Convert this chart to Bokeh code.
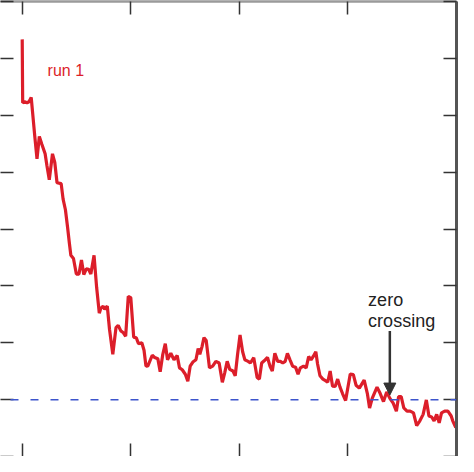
from bokeh.plotting import figure
from bokeh.models import (Range1d, FixedTicker, LinearAxis, Span, Label, Arrow, NormalHead,
                          CustomLabelingPolicy)
from bokeh.embed import file_html
from bokeh.resources import INLINE

# ---- data ----
step = [0, 0.22, 1.11, 2.23, 3.12, 4.14, 5.79, 6.81, 7.88, 9.04, 10.55, 11.35, 12.47, 13.94,
        15.00, 16.03, 17.94, 18.83, 19.90, 20.93, 21.68, 22.40, 23.60, 24.93, 26.14, 27.29,
        28.36, 29.52, 30.59, 31.61, 33.08, 34.28, 35.49, 36.20, 37.27, 37.98, 39.18, 40.20,
        41.72, 43.19, 44.21, 45.41, 46.44, 47.64, 48.84, 50.00, 51.34, 52.54, 53.56, 55.08,
        56.10, 56.99, 57.88, 59.88, 61.00, 62.47, 63.54, 64.69, 65.89, 66.92, 68.43, 69.90,
        71.37, 72.44, 73.69, 75.11, 76.27, 77.34, 78.58, 80.01, 81.03, 81.79, 82.81, 83.70,
        84.73, 86.24, 87.71, 89.18, 90.69, 92.16, 93.28, 94.39, 95.59, 97.06, 98.09, 99.15,
        100.31, 101.51, 102.54, 104.05, 105.08, 106.63, 108.19, 109.22, 110.28, 111.44,
        112.96, 114.11, 115.18, 116.34, 117.68, 118.88, 119.99, 121.10, 122.13, 123.33,
        124.53, 125.87, 127.03, 128.09, 129.56, 130.77, 131.92, 132.99, 134.02, 135.22,
        136.02, 137.13, 138.47, 139.67, 140.69, 141.81, 142.92, 144.12, 145.28, 146.35,
        147.51, 148.93, 151.07, 152.49, 153.74, 155.25, 157.48, 158.95, 159.97, 161.18,
        163.40, 164.87, 166.38, 167.85, 169.32, 170.84, 172.31, 173.33, 174.53, 175.73,
        177.20, 178.67, 180.19, 181.66, 183.13, 184.64, 186.11, 187.31, 188.56, 189.67,
        190.87, 192.03, 193.10, 194.57, 196.04, 197.55, 198.27, 199.69]
signal = [6.334, 5.220, 5.237, 5.220, 5.237, 5.314, 4.627, 4.232, 4.627, 4.492, 4.322, 4.119,
          3.864, 4.322, 4.169, 3.814, 3.797, 3.525, 3.339, 3.017, 2.763, 2.537, 2.480, 2.208,
          2.208, 2.453, 2.198, 2.300, 2.293, 2.208, 2.537, 1.971, 1.520, 1.605, 1.644, 1.588,
          1.644, 1.237, 0.797, 1.266, 1.305, 1.208, 1.181, 1.114, 1.814, 1.792, 1.097, 1.085,
          0.983, 1.000, 0.869, 0.588, 0.593, 0.780, 0.741, 0.717, 0.492, 0.785, 0.983, 0.700,
          0.814, 0.700, 0.775, 0.559, 0.525, 0.446, 0.322, 0.588, 0.661, 0.700, 0.898, 0.797,
          0.932, 1.090, 1.039, 0.559, 0.588, 0.673, 0.644, 0.305, 0.475, 0.673, 0.531, 0.503,
          0.419, 0.785, 1.136, 0.842, 0.700, 0.673, 0.644, 0.737, 0.390, 0.361, 0.644, 0.683,
          0.741, 0.588, 0.503, 0.814, 0.673, 0.673, 0.644, 0.673, 0.814, 0.700, 0.588, 0.571,
          0.446, 0.559, 0.588, 0.559, 0.758, 0.700, 0.758, 0.842, 0.627, 0.419, 0.361, 0.334,
          0.305, 0.503, 0.237, 0.232, 0.361, 0.220, 0.107, -0.017, 0.449, 0.441, 0.254, 0.203,
          0.344, 0.107, -0.147, 0.022, 0.220, 0.107, -0.034, 0.136, 0.022, -0.063, -0.203,
          0.051, 0.051, -0.147, -0.203, -0.203, -0.232, -0.458, -0.373, -0.259, -0.005,
          -0.288, -0.305, -0.373, -0.259, -0.407, -0.232, -0.203, -0.203, -0.288, -0.373,
          -0.492]
x_ticks = [0, 50, 100, 150, 200]
y_ticks = [-1, 0, 1, 2, 3, 4, 5, 6, 7]
series_label = "run 1"
note_lines = ["zero", "crossing"]

RED = "#dc1e2a"
DARK = "#333333"

p = figure(width=458, height=456, output_backend="svg", toolbar_location=None,
           x_range=Range1d(-10, 200), y_range=Range1d(-1, 7), min_border=0,
           x_axis_location=None, y_axis_location=None)
p.min_border_right = 2
p.min_border_top = 1
p.outline_line_color = None
p.grid.visible = False
p.background_fill_color = "white"
p.border_fill_color = "white"

no_labels = CustomLabelingPolicy(code="""
    const all = Array.from(indices)
    for (const i of all) indices.unset(i)
    return indices
""")


def make_axis(ticks, line_color, line_width):
    ax = LinearAxis()
    ax.ticker = FixedTicker(ticks=ticks)
    ax.major_tick_in = 13
    ax.major_tick_out = 0
    ax.minor_tick_line_color = None
    ax.major_tick_line_color = DARK
    ax.major_tick_line_width = 1.5
    ax.major_label_policy = no_labels
    ax.major_label_text_font_size = "0px"
    ax.major_label_standoff = 0
    ax.axis_line_color = line_color
    ax.axis_line_width = line_width
    return ax


p.add_layout(make_axis(x_ticks, None, 1), "below")
p.add_layout(make_axis(y_ticks, None, 1), "left")
p.add_layout(make_axis(x_ticks, "#9a9a9a", 2.5), "above")
p.add_layout(make_axis(y_ticks, "#555555", 3), "right")

p.add_layout(Span(location=0, dimension="width", line_color="#3d55cc", line_width=1.5,
                  line_dash="8 12", line_dash_offset=10))

p.line(step, signal, line_color=RED, line_width=3.2)

p.add_layout(Label(x=11.7, y=5.785, text=series_label, text_color=RED,
                   text_font="Liberation Sans", text_font_size="16px",
                   text_baseline="alphabetic"))
p.add_layout(Label(x=159.3, y=1.746, text=note_lines[0], text_color="#222222",
                   text_font="Liberation Sans", text_font_size="18px",
                   text_baseline="alphabetic"))
p.add_layout(Label(x=159.3, y=1.378, text=note_lines[1], text_color="#222222",
                   text_font="Liberation Sans", text_font_size="18px",
                   text_baseline="alphabetic"))

p.add_layout(Arrow(end=NormalHead(size=12, fill_color=DARK, line_color=DARK),
                   x_start=169.3, y_start=1.208, x_end=169.3, y_end=0.08,
                   line_color=DARK, line_width=2.5))

open("out.html", "w").write(file_html(p, INLINE))
